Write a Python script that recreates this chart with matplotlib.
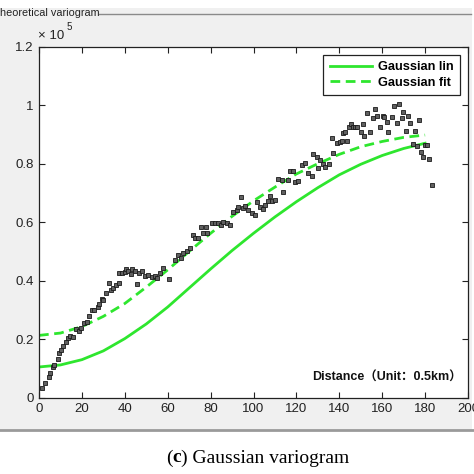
import matplotlib
matplotlib.use("Agg")
import matplotlib.pyplot as plt
from matplotlib.patches import Rectangle
from matplotlib.lines import Line2D

# ---- data (units of 1e5) ----
dist = [1.4, 2.8, 4.5, 5.1, 6.4, 7.1, 8.7, 9.2, 10.3, 11.3, 12.6, 13.4, 14.5, 15.7, 17.2, 18.8, 19.8,
        21.1, 22.3, 23.4, 24.5, 25.8, 27.3, 28.1, 29.2, 30.0, 31.2, 32.5, 33.6, 34.6, 35.9, 37.1, 37.4,
        38.7, 40.0, 40.6, 41.5, 42.9, 43.5, 44.8, 45.5, 46.5, 47.9, 49.4, 51.0, 52.5, 54.1, 54.9, 56.4,
        57.7, 60.7, 63.4, 65.0, 66.0, 67.3, 68.9, 70.4, 71.6, 72.7, 74.3, 75.4, 76.6, 77.8, 78.5, 80.5,
        82.0, 83.6, 85.0, 86.0, 87.5, 89.0, 90.6, 92.1, 92.9, 94.0, 95.2, 96.0, 97.6, 99.2, 100.7, 101.5,
        103.0, 104.6, 105.4, 106.9, 107.7, 108.5, 110.0, 111.6, 113.2, 113.9, 116.2, 117.0, 118.6, 119.3,
        120.9, 122.4, 124.0, 125.5, 127.1, 127.9, 129.5, 130.3, 131.0, 132.6, 133.3, 135.0, 136.4, 137.2,
        138.8, 140.3, 141.1, 141.9, 142.7, 143.4, 144.7, 145.5, 146.2, 147.3, 148.4, 150.0, 150.9, 151.5,
        152.8, 154.3, 155.6, 156.6, 157.7, 159.0, 160.2, 160.8, 162.1, 162.9, 164.4, 165.6, 167.0, 168.0,
        169.1, 169.9, 171.0, 171.9, 173.0, 174.2, 175.2, 176.0, 177.0, 178.1, 178.9, 180.0, 181.0, 182.0,
        183.1]
semivar = [0.032, 0.049, 0.070, 0.083, 0.104, 0.112, 0.131, 0.154, 0.163, 0.177, 0.191, 0.203, 0.211,
           0.207, 0.234, 0.229, 0.238, 0.254, 0.258, 0.279, 0.300, 0.300, 0.311, 0.319, 0.336, 0.334,
           0.359, 0.391, 0.368, 0.376, 0.385, 0.425, 0.391, 0.425, 0.430, 0.439, 0.433, 0.423, 0.439,
           0.434, 0.389, 0.425, 0.434, 0.416, 0.420, 0.412, 0.416, 0.408, 0.428, 0.442, 0.405, 0.471,
           0.488, 0.478, 0.496, 0.501, 0.511, 0.556, 0.545, 0.545, 0.583, 0.562, 0.585, 0.564, 0.596,
           0.596, 0.596, 0.592, 0.602, 0.596, 0.590, 0.636, 0.642, 0.651, 0.687, 0.647, 0.655, 0.642,
           0.632, 0.625, 0.670, 0.651, 0.644, 0.659, 0.673, 0.690, 0.672, 0.676, 0.746, 0.744, 0.704,
           0.744, 0.776, 0.776, 0.738, 0.741, 0.795, 0.804, 0.767, 0.758, 0.833, 0.824, 0.784, 0.813,
           0.799, 0.788, 0.800, 0.887, 0.836, 0.870, 0.875, 0.879, 0.906, 0.909, 0.879, 0.927, 0.936,
           0.927, 0.927, 0.927, 0.909, 0.936, 0.895, 0.974, 0.907, 0.955, 0.986, 0.963, 0.927, 0.963,
           0.959, 0.944, 0.907, 0.958, 0.997, 0.940, 1.003, 0.955, 0.976, 0.913, 0.963, 0.938, 0.867,
           0.913, 0.862, 0.949, 0.841, 0.824, 0.864, 0.864, 0.815, 0.727]

model_x = [0, 10, 20, 30, 40, 50, 60, 70, 80, 90, 100, 110, 120, 130, 140, 150, 160, 170, 180]
gauss_lin = [0.105, 0.112, 0.130, 0.160, 0.202, 0.252, 0.310, 0.375, 0.440, 0.503, 0.562, 0.618,
             0.670, 0.718, 0.762, 0.798, 0.828, 0.852, 0.870]
gauss_fit = [0.213, 0.221, 0.243, 0.278, 0.322, 0.378, 0.437, 0.500, 0.562, 0.620, 0.673, 0.720,
             0.765, 0.800, 0.832, 0.858, 0.876, 0.890, 0.898]

x_ticks = [0, 20, 40, 60, 80, 100, 120, 140, 160, 180, 200]
y_ticks = [0, 0.2, 0.4, 0.6, 0.8, 1.0, 1.2]
y_ticklabels = ['0', '0.2', '0.4', '0.6', '0.8', '1', '1.2']

W, H = 474, 474
fig = plt.figure(figsize=(W / 100, H / 100), dpi=100)
fig.patch.set_facecolor('white')

# gray panel background
fig.patches.append(Rectangle((0, 1 - 430 / H), 472 / W, (430 - 8) / H, transform=fig.transFigure,
                             facecolor='#f0f0f0', edgecolor='none', zorder=-10))
fig.lines.append(Line2D([99 / W, 471 / W], [1 - 13.5 / H, 1 - 13.5 / H], transform=fig.transFigure,
                        color='#8a8a8a', lw=1.0))
fig.lines.append(Line2D([0, 1], [1 - 430 / H, 1 - 430 / H], transform=fig.transFigure,
                        color='#9a9a9a', lw=2.0))
fig.text(0.0, 1 - 13.5 / H, 'heoretical variogram', ha='left', va='center', fontsize=7.8,
         family='Liberation Sans', color='#222222')

ax = fig.add_axes([39 / W, 1 - 397.7 / H, (468 - 39) / W, (397.7 - 46.7) / H])
ax.set_facecolor('white')

green = '#2ee62e'
ax.plot(model_x, gauss_lin, color=green, lw=2.0, label='Gaussian lin', zorder=2)
ax.plot(model_x, gauss_fit, color=green, lw=2.0, ls=(0, (3.5, 2)), label='Gaussian fit', zorder=2)
ax.plot(dist, semivar, ls='none', marker='s', markersize=2.4, mfc='#606060', mec='#1a1a1a',
        mew=0.6, zorder=3)

ax.set_xlim(0, 200)
ax.set_ylim(0, 1.2)
ax.set_xticks(x_ticks)
ax.set_xticklabels([str(v) for v in x_ticks])
ax.set_yticks(y_ticks)
ax.set_yticklabels(y_ticklabels)
ax.tick_params(direction='in', top=True, right=True, length=4, width=0.8, pad=4,
               labelsize=9.5, colors='#222222')
for lab in ax.get_xticklabels() + ax.get_yticklabels():
    lab.set_family('Liberation Sans')
for s in ax.spines.values():
    s.set_color('#222222')
    s.set_linewidth(0.9)

leg = ax.legend(loc='upper right', bbox_to_anchor=(1 - 1.5 / 429, 1 - 1.5 / 351), fancybox=False,
                framealpha=1, edgecolor='#222222', handlelength=3.3, handletextpad=0.5,
                borderpad=0.5, labelspacing=0.3,
                prop={'family': 'Liberation Sans', 'size': 9.2, 'weight': 'bold'})
leg.get_frame().set_linewidth(0.9)

ax.text(0.985, 0.056, 'Distance（Unit：0.5km）', transform=ax.transAxes, ha='right', va='center',
        fontsize=9, fontweight='bold', family=['Liberation Sans', 'Noto Sans CJK SC'], color='#111111')

# exponent label
fig.text(38 / W, 1 - 36 / H, '× 10', ha='left', va='center', fontsize=9.5,
         family='Liberation Sans', color='#222222')
fig.text(67 / W, 1 - 27 / H, '5', ha='left', va='center', fontsize=7,
         family='Liberation Sans', color='#222222')

# caption
cap_x = 166 / W
t1 = fig.text(cap_x, 1 - 458 / H, '(', ha='left', va='center', fontsize=14, family='Liberation Serif')
fig.canvas.draw()
r = fig.canvas.get_renderer()
bb = t1.get_window_extent(r)
t2 = fig.text(bb.x1 / W, 1 - 458 / H, 'c', ha='left', va='center', fontsize=14,
              family='Liberation Serif', fontweight='bold')
bb2 = t2.get_window_extent(r)
fig.text(bb2.x1 / W, 1 - 458 / H, ') Gaussian variogram', ha='left', va='center', fontsize=14,
         family='Liberation Serif')

fig.savefig('out.png', dpi=100)
